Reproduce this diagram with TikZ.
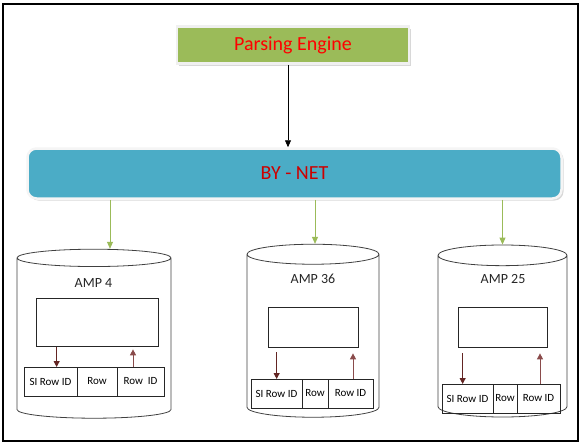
\documentclass[tikz,border=0pt]{standalone}
\usepackage{fontspec}
\setmainfont{Carlito}
\usetikzlibrary{shapes.geometric,shadows,arrows.meta,positioning,calc}
\definecolor{pegreen}{HTML}{9BBB59}
\definecolor{netblue}{HTML}{4BACC6}
\definecolor{rowred}{HTML}{632523}
\definecolor{rowredlight}{HTML}{8A4B4B}
\tikzset{
    engine/.style = {draw=gray!12, line width=2.5pt, fill=pegreen,
        minimum width=232pt, minimum height=37pt, text=red,
        font=\fontsize{20}{24}\selectfont,
        drop shadow={shadow xshift=2pt, shadow yshift=-2pt, fill=gray!60}},
    net/.style = {draw=gray!8, line width=2.5pt, fill=netblue, rounded corners=9pt,
        minimum width=534pt, minimum height=50pt, text=red!80!black,
        font=\fontsize{20}{24}\selectfont,
        drop shadow={shadow xshift=2pt, shadow yshift=-2pt, fill=gray!60}},
    amp/.style = {draw=black!75, line width=0.8pt, cylinder, shape border rotate=90, aspect=3},
    amplabel/.style = {text=black!85, font=\fontsize{14}{16}\selectfont},
    buffer/.style = {draw=black!85, line width=0.7pt, inner sep=0pt},
    cell/.style = {draw=black!85, line width=0.7pt, inner sep=0pt, outer sep=0pt,
        minimum height=29pt, font=\fontsize{11}{13}\selectfont},
    netarrow/.style = {draw=pegreen, line width=0.8pt, -{Triangle[length=7pt,width=6pt]}},
    rowdown/.style = {draw=rowred, line width=1pt, -{Triangle[length=6pt,width=6pt]}},
    rowup/.style = {draw=rowredlight, line width=1pt, -{Triangle[length=6pt,width=6pt]}}
}

\begin{document}
\begin{tikzpicture}[x=1pt,y=1pt]
    \useasboundingbox (0,0) rectangle (581,-445);
    \draw[line width=1.2pt] (3,-4) rectangle (578,-441);

    \node [engine] (pe) at (293,-45) {Parsing Engine};
    \node [net] (bynet) at (294.5,-173.5) {BY - NET};
    \draw[-{Triangle[length=7pt,width=6pt]}, line width=0.8pt] ([xshift=-5pt]pe.south) -- ([xshift=-5pt]pe.south |- bynet.north);

    % AMP 4
    \node [amp, aspect=2.6, minimum width=154pt, minimum height=169pt] (amp4) at (94,-339.5) {};
    \node [amplabel] (lab4) at (93.5,-283) {AMP 4};
    \node [buffer, minimum width=122pt, minimum height=48pt] (buf4) at (97,-322) {};
    \node [cell, minimum width=53pt, anchor=west] (si4) at (24,-381.5) {SI Row ID};
    \node [cell, minimum width=40pt, right=0pt of si4] (row4) {Row};
    \node [cell, minimum width=47pt, right=0pt of row4] (rid4) {Row~~ID};
    \draw[rowdown] ([xshift=21pt,yshift=-1pt]buf4.south west) -- ([xshift=21pt]buf4.south west |- si4.north);
    \draw[rowup] ([xshift=16pt]rid4.north west) -- ([xshift=16pt,yshift=-3pt]rid4.north west |- buf4.south);

    % AMP 36
    \node [amp, minimum width=132pt, minimum height=173pt] (amp36) at (313,-337.5) {};
    \node [amplabel] (lab36) at (313,-279) {AMP 36};
    \node [buffer, minimum width=90pt, minimum height=40pt] (buf36) at (313,-327) {};
    \node [cell, minimum width=51pt, anchor=west] (si36) at (251,-393.5) {SI Row ID};
    \node [cell, minimum width=26pt, right=0pt of si36] (row36) {Row};
    \node [cell, minimum width=45pt, right=0pt of row36] (rid36) {Row ID};
    \draw[rowdown] ([xshift=9pt,yshift=-5pt]buf36.south west) -- ([xshift=9pt]buf36.south west |- si36.north);
    \draw[rowup] ([xshift=25pt]rid36.north west) -- ([xshift=25pt,yshift=-6pt]rid36.north west |- buf36.south);

    % AMP 25
    \node [amp, aspect=3.1, minimum width=129pt, minimum height=172pt] (amp25) at (502.5,-338) {};
    \node [amplabel] (lab25) at (503,-279) {AMP 25};
    \node [buffer, minimum width=89pt, minimum height=40pt] (buf25) at (502.5,-327) {};
    \node [cell, minimum width=51pt, anchor=west] (si25) at (442,-398.5) {SI Row ID};
    \node [cell, minimum width=24pt, right=0pt of si25] (row25) {Row};
    \node [cell, minimum width=43pt, right=0pt of row25] (rid25) {Row ID};
    \draw[rowdown] ([xshift=5pt,yshift=-6pt]buf25.south west) -- ([xshift=5pt]buf25.south west |- si25.north);
    \draw[rowup] ([xshift=23pt]rid25.north west) -- ([xshift=23pt,yshift=-6pt]rid25.north west |- buf25.south);

    % by-net to amps
    \draw[netarrow] ([xshift=16pt]amp4.north |- bynet.south) -- ([xshift=16pt]amp4.north);
    \draw[netarrow] ([xshift=2pt]amp36.north |- bynet.south) -- ([xshift=2pt]amp36.north);
    \draw[netarrow] (amp25.north |- bynet.south) -- (amp25.north);
\end{tikzpicture}
\end{document}
